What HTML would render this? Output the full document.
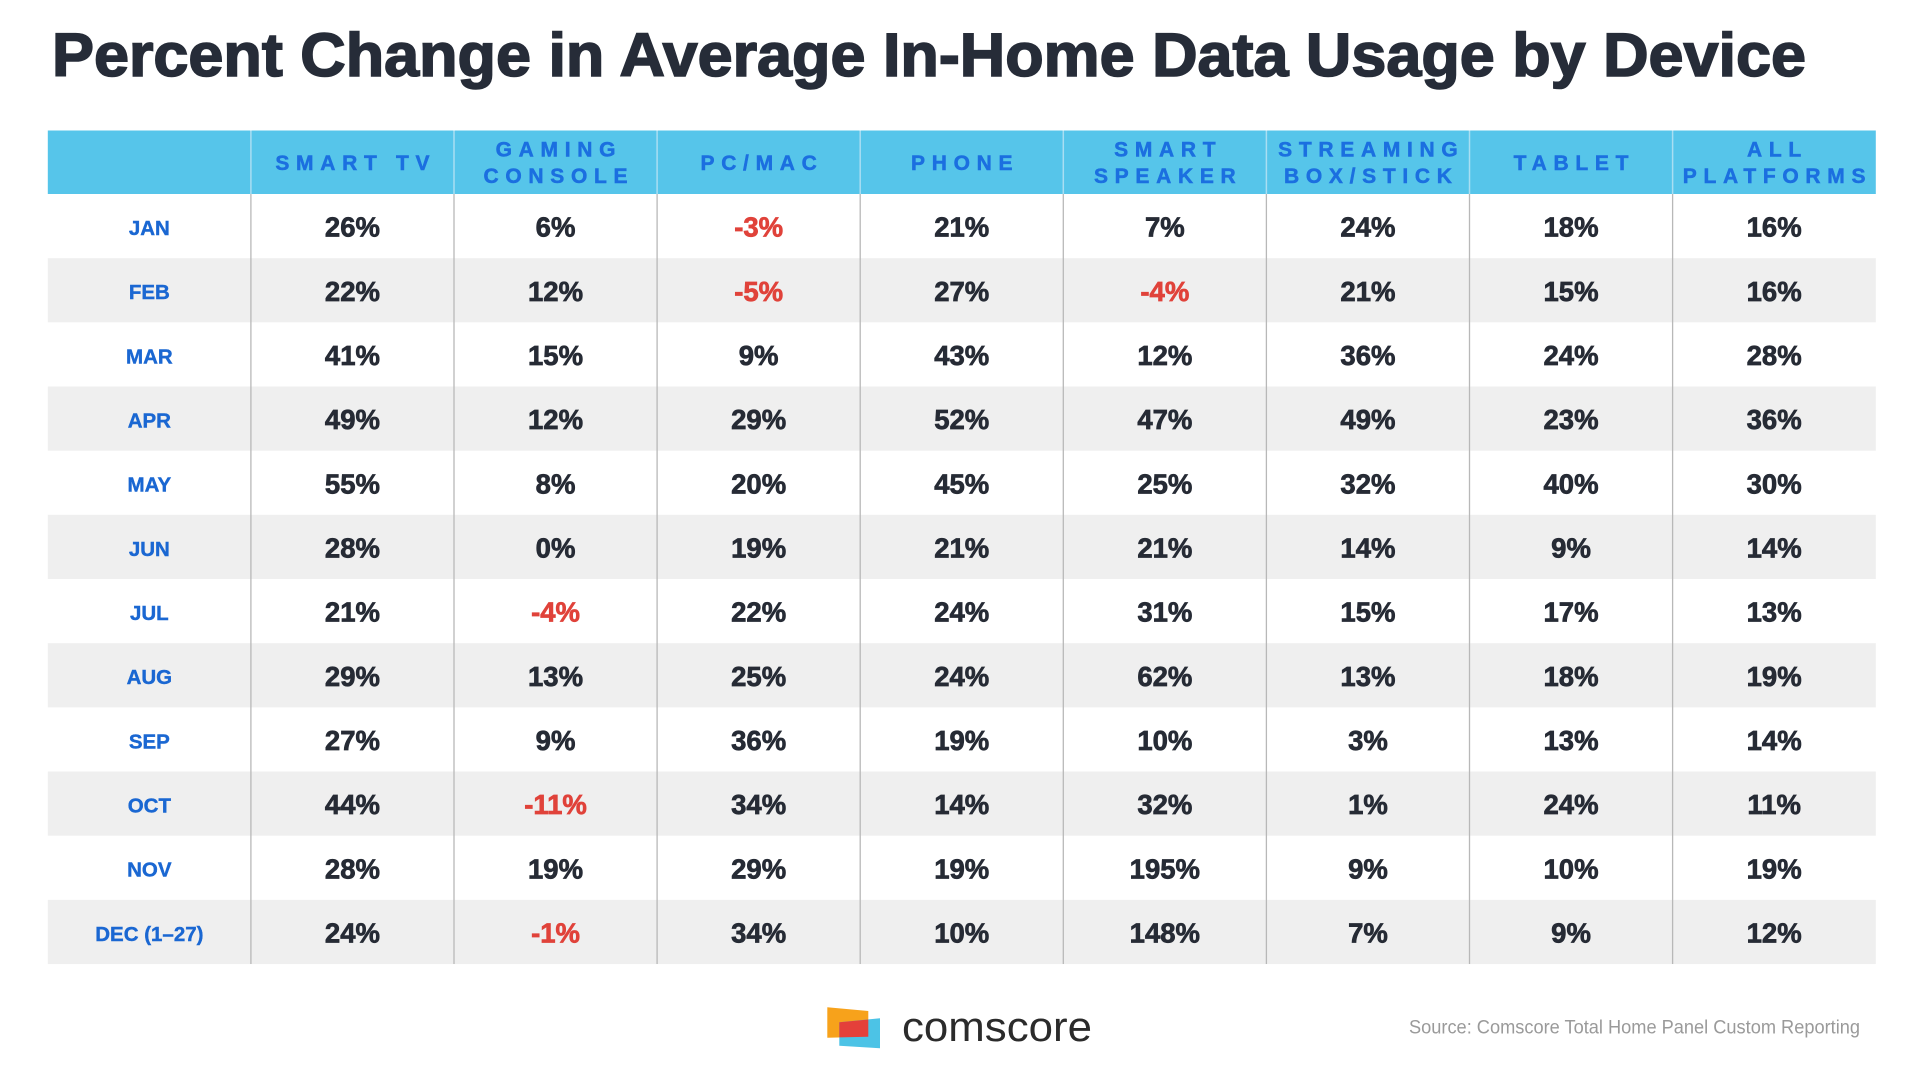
<!DOCTYPE html>
<html>
<head>
<meta charset="utf-8">
<style>
  html,body{margin:0;padding:0;background:#ffffff;}
  body{width:1920px;height:1080px;overflow:hidden;}
  svg{display:block;}
  .hd{font-family:"Liberation Sans",sans-serif;font-weight:bold;font-size:21px;fill:#1b6fe0;stroke:#1b6fe0;stroke-width:0.5px;letter-spacing:6.7px;text-anchor:middle;}
  .mo{font-family:"Liberation Sans",sans-serif;font-weight:bold;font-size:20.5px;fill:#1a67d2;stroke:#1a67d2;stroke-width:0.4px;text-anchor:middle;}
  .v{font-family:"Liberation Sans",sans-serif;font-weight:bold;font-size:27.5px;fill:#262b35;stroke:#262b35;stroke-width:0.7px;text-anchor:middle;}
  .n{fill:#e0423a;stroke:#e0423a;}
</style>
</head>
<body>
<svg width="1920" height="1080" viewBox="0 0 1920 1080" xmlns="http://www.w3.org/2000/svg">
  <rect x="0" y="0" width="1920" height="1080" fill="#ffffff"/>

  <!-- Title -->
  <text x="52" y="76" font-family="Liberation Sans, sans-serif" font-weight="bold" font-size="61" fill="#262c38" stroke="#262c38" stroke-width="1.6" textLength="1754" lengthAdjust="spacingAndGlyphs">Percent Change in Average In-Home Data Usage by Device</text>

  <!-- Header background -->
  <rect x="47.8" y="130.5" width="1828" height="63.5" fill="#56c5ea"/>

  <!-- Alternating row backgrounds -->
  <rect x="47.8" y="258.17" width="1828" height="64.17" fill="#efefef"/>
  <rect x="47.8" y="386.5" width="1828" height="64.17" fill="#efefef"/>
  <rect x="47.8" y="514.85" width="1828" height="64.17" fill="#efefef"/>
  <rect x="47.8" y="643.19" width="1828" height="64.17" fill="#efefef"/>
  <rect x="47.8" y="771.53" width="1828" height="64.17" fill="#efefef"/>
  <rect x="47.8" y="899.87" width="1828" height="64.17" fill="#efefef"/>

  <!-- Header dividers -->
  <g stroke="#a9def2" stroke-width="1.5">
    <line x1="250.9" y1="130.5" x2="250.9" y2="194"/>
    <line x1="454" y1="130.5" x2="454" y2="194"/>
    <line x1="657.1" y1="130.5" x2="657.1" y2="194"/>
    <line x1="860.2" y1="130.5" x2="860.2" y2="194"/>
    <line x1="1063.3" y1="130.5" x2="1063.3" y2="194"/>
    <line x1="1266.4" y1="130.5" x2="1266.4" y2="194"/>
    <line x1="1469.5" y1="130.5" x2="1469.5" y2="194"/>
    <line x1="1672.6" y1="130.5" x2="1672.6" y2="194"/>
  </g>
  <!-- Body dividers -->
  <g stroke="#b8b8b8" stroke-width="1.3">
    <line x1="250.9" y1="194" x2="250.9" y2="964"/>
    <line x1="454" y1="194" x2="454" y2="964"/>
    <line x1="657.1" y1="194" x2="657.1" y2="964"/>
    <line x1="860.2" y1="194" x2="860.2" y2="964"/>
    <line x1="1063.3" y1="194" x2="1063.3" y2="964"/>
    <line x1="1266.4" y1="194" x2="1266.4" y2="964"/>
    <line x1="1469.5" y1="194" x2="1469.5" y2="964"/>
    <line x1="1672.6" y1="194" x2="1672.6" y2="964"/>
  </g>

  <!-- Header labels -->
  <text class="hd" x="355.8" y="170">SMART TV</text>
  <text class="hd" x="558.9" y="156.5">GAMING</text>
  <text class="hd" x="558.9" y="183">CONSOLE</text>
  <text class="hd" x="762" y="170">PC/MAC</text>
  <text class="hd" x="965.1" y="170">PHONE</text>
  <text class="hd" x="1168.2" y="156.5">SMART</text>
  <text class="hd" x="1168.2" y="183">SPEAKER</text>
  <text class="hd" x="1371.3" y="156.5">STREAMING</text>
  <text class="hd" x="1371.3" y="183">BOX/STICK</text>
  <text class="hd" x="1574.4" y="170">TABLET</text>
  <text class="hd" x="1777.5" y="156.5">ALL</text>
  <text class="hd" x="1777.5" y="183">PLATFORMS</text>

  <!-- Month labels -->
  <text class="mo" x="149.35" y="235">JAN</text>
  <text class="mo" x="149.35" y="299.2">FEB</text>
  <text class="mo" x="149.35" y="363.3">MAR</text>
  <text class="mo" x="149.35" y="427.5">APR</text>
  <text class="mo" x="149.35" y="491.7">MAY</text>
  <text class="mo" x="149.35" y="555.9">JUN</text>
  <text class="mo" x="149.35" y="620">JUL</text>
  <text class="mo" x="149.35" y="684.2">AUG</text>
  <text class="mo" x="149.35" y="748.4">SEP</text>
  <text class="mo" x="149.35" y="812.5">OCT</text>
  <text class="mo" x="149.35" y="876.7">NOV</text>
  <text class="mo" x="149.35" y="940.9">DEC (1–27)</text>

  <!-- JAN -->
  <g transform="translate(0,236.7)">
    <text class="v" x="352.45" y="0">26%</text>
    <text class="v" x="555.55" y="0">6%</text>
    <text class="v n" x="758.65" y="0">-3%</text>
    <text class="v" x="961.75" y="0">21%</text>
    <text class="v" x="1164.85" y="0">7%</text>
    <text class="v" x="1367.95" y="0">24%</text>
    <text class="v" x="1571.05" y="0">18%</text>
    <text class="v" x="1774.15" y="0">16%</text>
  </g>
  <!-- FEB -->
  <g transform="translate(0,300.87)">
    <text class="v" x="352.45" y="0">22%</text>
    <text class="v" x="555.55" y="0">12%</text>
    <text class="v n" x="758.65" y="0">-5%</text>
    <text class="v" x="961.75" y="0">27%</text>
    <text class="v n" x="1164.85" y="0">-4%</text>
    <text class="v" x="1367.95" y="0">21%</text>
    <text class="v" x="1571.05" y="0">15%</text>
    <text class="v" x="1774.15" y="0">16%</text>
  </g>
  <!-- MAR -->
  <g transform="translate(0,365.04)">
    <text class="v" x="352.45" y="0">41%</text>
    <text class="v" x="555.55" y="0">15%</text>
    <text class="v" x="758.65" y="0">9%</text>
    <text class="v" x="961.75" y="0">43%</text>
    <text class="v" x="1164.85" y="0">12%</text>
    <text class="v" x="1367.95" y="0">36%</text>
    <text class="v" x="1571.05" y="0">24%</text>
    <text class="v" x="1774.15" y="0">28%</text>
  </g>
  <!-- APR -->
  <g transform="translate(0,429.21)">
    <text class="v" x="352.45" y="0">49%</text>
    <text class="v" x="555.55" y="0">12%</text>
    <text class="v" x="758.65" y="0">29%</text>
    <text class="v" x="961.75" y="0">52%</text>
    <text class="v" x="1164.85" y="0">47%</text>
    <text class="v" x="1367.95" y="0">49%</text>
    <text class="v" x="1571.05" y="0">23%</text>
    <text class="v" x="1774.15" y="0">36%</text>
  </g>
  <!-- MAY -->
  <g transform="translate(0,493.38)">
    <text class="v" x="352.45" y="0">55%</text>
    <text class="v" x="555.55" y="0">8%</text>
    <text class="v" x="758.65" y="0">20%</text>
    <text class="v" x="961.75" y="0">45%</text>
    <text class="v" x="1164.85" y="0">25%</text>
    <text class="v" x="1367.95" y="0">32%</text>
    <text class="v" x="1571.05" y="0">40%</text>
    <text class="v" x="1774.15" y="0">30%</text>
  </g>
  <!-- JUN -->
  <g transform="translate(0,557.55)">
    <text class="v" x="352.45" y="0">28%</text>
    <text class="v" x="555.55" y="0">0%</text>
    <text class="v" x="758.65" y="0">19%</text>
    <text class="v" x="961.75" y="0">21%</text>
    <text class="v" x="1164.85" y="0">21%</text>
    <text class="v" x="1367.95" y="0">14%</text>
    <text class="v" x="1571.05" y="0">9%</text>
    <text class="v" x="1774.15" y="0">14%</text>
  </g>
  <!-- JUL -->
  <g transform="translate(0,621.72)">
    <text class="v" x="352.45" y="0">21%</text>
    <text class="v n" x="555.55" y="0">-4%</text>
    <text class="v" x="758.65" y="0">22%</text>
    <text class="v" x="961.75" y="0">24%</text>
    <text class="v" x="1164.85" y="0">31%</text>
    <text class="v" x="1367.95" y="0">15%</text>
    <text class="v" x="1571.05" y="0">17%</text>
    <text class="v" x="1774.15" y="0">13%</text>
  </g>
  <!-- AUG -->
  <g transform="translate(0,685.89)">
    <text class="v" x="352.45" y="0">29%</text>
    <text class="v" x="555.55" y="0">13%</text>
    <text class="v" x="758.65" y="0">25%</text>
    <text class="v" x="961.75" y="0">24%</text>
    <text class="v" x="1164.85" y="0">62%</text>
    <text class="v" x="1367.95" y="0">13%</text>
    <text class="v" x="1571.05" y="0">18%</text>
    <text class="v" x="1774.15" y="0">19%</text>
  </g>
  <!-- SEP -->
  <g transform="translate(0,750.06)">
    <text class="v" x="352.45" y="0">27%</text>
    <text class="v" x="555.55" y="0">9%</text>
    <text class="v" x="758.65" y="0">36%</text>
    <text class="v" x="961.75" y="0">19%</text>
    <text class="v" x="1164.85" y="0">10%</text>
    <text class="v" x="1367.95" y="0">3%</text>
    <text class="v" x="1571.05" y="0">13%</text>
    <text class="v" x="1774.15" y="0">14%</text>
  </g>
  <!-- OCT -->
  <g transform="translate(0,814.23)">
    <text class="v" x="352.45" y="0">44%</text>
    <text class="v n" x="555.55" y="0">-11%</text>
    <text class="v" x="758.65" y="0">34%</text>
    <text class="v" x="961.75" y="0">14%</text>
    <text class="v" x="1164.85" y="0">32%</text>
    <text class="v" x="1367.95" y="0">1%</text>
    <text class="v" x="1571.05" y="0">24%</text>
    <text class="v" x="1774.15" y="0">11%</text>
  </g>
  <!-- NOV -->
  <g transform="translate(0,878.4)">
    <text class="v" x="352.45" y="0">28%</text>
    <text class="v" x="555.55" y="0">19%</text>
    <text class="v" x="758.65" y="0">29%</text>
    <text class="v" x="961.75" y="0">19%</text>
    <text class="v" x="1164.85" y="0">195%</text>
    <text class="v" x="1367.95" y="0">9%</text>
    <text class="v" x="1571.05" y="0">10%</text>
    <text class="v" x="1774.15" y="0">19%</text>
  </g>
  <!-- DEC -->
  <g transform="translate(0,942.3)">
    <text class="v" x="352.45" y="0">24%</text>
    <text class="v n" x="555.55" y="0">-1%</text>
    <text class="v" x="758.65" y="0">34%</text>
    <text class="v" x="961.75" y="0">10%</text>
    <text class="v" x="1164.85" y="0">148%</text>
    <text class="v" x="1367.95" y="0">7%</text>
    <text class="v" x="1571.05" y="0">9%</text>
    <text class="v" x="1774.15" y="0">12%</text>
  </g>

  <!-- Comscore logo -->
  <polygon points="827.3,1007.3 868.3,1011 868.3,1036.7 827.3,1037.7" fill="#f7a21b"/>
  <polygon points="839.3,1022.3 880,1018.3 880,1048.3 839.3,1045.7" fill="#4cc3e6"/>
  <polygon points="839.3,1022.3 868.3,1019.5 868.3,1036.7 839.3,1037.4" fill="#e4403a"/>
  <text x="902" y="1041" font-family="Liberation Sans, sans-serif" font-size="42" fill="#2b2b2b" textLength="190" lengthAdjust="spacingAndGlyphs">comscore</text>

  <!-- Source -->
  <text x="1409" y="1033.3" font-family="Liberation Sans, sans-serif" font-size="19.5" fill="#9a9a9a" textLength="451" lengthAdjust="spacingAndGlyphs">Source: Comscore Total Home Panel Custom Reporting</text>
</svg>
</body>
</html>
